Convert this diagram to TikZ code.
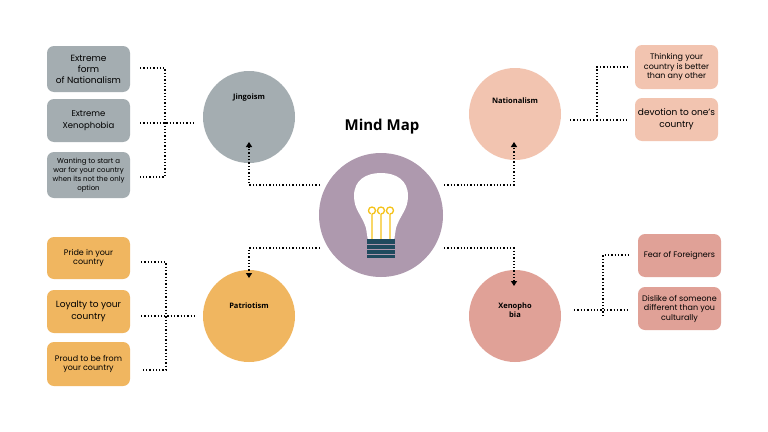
\documentclass[tikz,border=0pt]{standalone}
\usepackage{fontspec}
\setmainfont{Poppins}
\newfontfamily\osb{Open Sans}
\usetikzlibrary{arrows.meta}
\definecolor{cgray}{HTML}{A4ADB1}
\definecolor{corange}{HTML}{F0B660}
\definecolor{cpeach}{HTML}{F2C4B0}
\definecolor{crose}{HTML}{E0A197}
\definecolor{cpurple}{HTML}{AE99AE}
\definecolor{cbase}{HTML}{1F4A5E}
\definecolor{cfil}{HTML}{F5C218}
\begin{document}
\begin{tikzpicture}[x=1pt,y=-1pt,
  topic/.style={circle,minimum size=92pt,inner sep=0pt},
  leaf/.style={rounded corners=7pt,minimum width=83pt,align=center,inner sep=1pt,font=\fontsize{8}{9.5}\selectfont},
  lbl/.style={font=\osb\bfseries\fontsize{7.5}{8.5}\selectfont,align=center},
  dot/.style={dotted,line width=1.3pt},
  arr/.style={dot,-{Triangle[width=6pt,length=5pt]}}]
\useasboundingbox (0,0) rectangle (768,431);
\fill[white] (0,0) rectangle (768,431);
% circles
\node[topic,fill=cgray] (jin) at (249,117) {};
\node[topic,fill=cpeach] (nat) at (515,114) {};
\node[topic,fill=corange] (pat) at (249,316) {};
\node[topic,fill=crose] (xen) at (515,316) {};
\node[circle,minimum size=124pt,inner sep=0pt,fill=cpurple] (ctr) at (381,215) {};
\node[lbl] at (249,98) {Jingoism};
\node[lbl] at (515,101) {Nationalism};
\node[lbl] at (249,306) {Patriotism};
\node[lbl] at (515,310) {Xenopho\\bia};
\node[font=\osb\bfseries\fontsize{15}{18}\selectfont] at (382,127) {Mind Map};
% bulb
\fill[white] (368,241) -- (366,228) .. controls (362,215) and (354,210) .. (354,196)
  .. controls (354,180) and (366,173) .. (381,173) .. controls (396,173) and (408,180) .. (408,196)
  .. controls (408,210) and (400,215) .. (396,228) -- (394,241) -- cycle;
\draw[cfil,line width=1.3pt] (372,240) -- (372,214) (381,240) -- (381,214) (390,240) -- (390,214)
  (372,214) arc[start angle=-90,end angle=250,radius=3.5pt]
  (381,214) arc[start angle=-90,end angle=250,radius=3.5pt]
  (390,214) arc[start angle=-90,end angle=250,radius=3.5pt];
\fill[cbase] (367,239) rectangle (395,258);
\draw[cpurple,line width=0.8pt] (367,244) -- (395,244) (367,249) -- (395,249) (367,254) -- (395,254);
% leaves
\node[leaf,fill=cgray,minimum height=46pt,font=\fontsize{9}{11}\selectfont] (g1) at (88.5,69) {Extreme\\form\\of Nationalism};
\node[leaf,fill=cgray,minimum height=43pt,font=\fontsize{8.5}{12}\selectfont] (g2) at (88.5,120.5) {Extreme\\Xenophobia};
\node[leaf,fill=cgray,minimum height=46pt,font=\fontsize{7}{9}\selectfont] (g3) at (88.5,175) {Wanting to start a\\war for your country\\when its not the only\\option};
\node[leaf,fill=corange,minimum height=42pt] (o1) at (88.5,258) {Pride in your\\country};
\node[leaf,fill=corange,minimum height=43pt,font=\fontsize{9}{12}\selectfont] (o2) at (88.5,311.5) {Loyalty to your\\country};
\node[leaf,fill=corange,minimum height=44pt] (o3) at (88.5,364) {Proud to be from\\your country};
\node[leaf,fill=cpeach,minimum height=44pt] (p1) at (676.5,67) {Thinking your\\country is better\\than any other};
\node[leaf,fill=cpeach,minimum height=43pt,font=\fontsize{9}{12}\selectfont] (p2) at (676.5,119.5) {devotion to one's\\country};
\node[leaf,fill=crose,minimum height=43pt] (r1) at (679.5,255.5) {Fear of Foreigners};
\node[leaf,fill=crose,minimum height=43pt] (r2) at (679.5,308.5) {Dislike of someone\\different than you\\culturally};
% left connectors
\coordinate (jb) at (165,123);
\draw[dot] (140,68) -- (165,68) -- (165,177) -- (140,177);
\draw[dot] (140,123) -- (195,123);
\draw[dot] (141,262) -- (166,262) -- (166,370) -- (141,370);
\draw[dot] (141,316) -- (196,316);
% right connectors
\draw[dot] (570,120) -- (628,120);
\draw[dot] (597,120) -- (597,67) -- (628,67);
\draw[dot] (574,310) -- (628,310);
\draw[dot] (603,316) -- (603,255) -- (628,255);
% center arrows
\draw[arr] (320,185) -- (249,185) -- (249,142);
\draw[arr] (320,248) -- (249,248) -- (249,278);
\draw[arr] (444,185) -- (514,185) -- (514,142);
\draw[arr] (444,248) -- (514,248) -- (514,286);
\end{tikzpicture}
\end{document}
